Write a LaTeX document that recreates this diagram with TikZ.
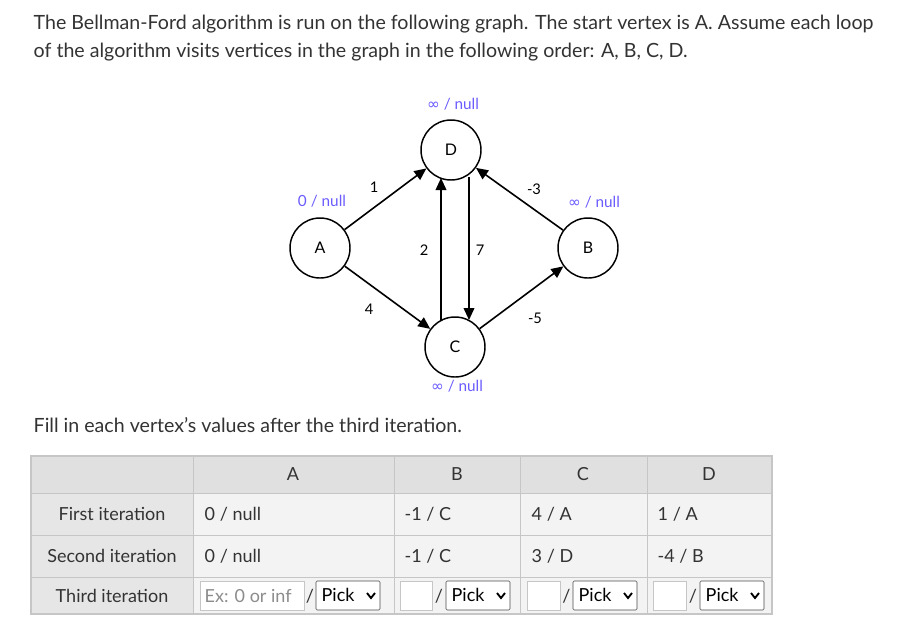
\documentclass[tikz,border=0pt]{standalone}
\usepackage{fontspec}
\setmainfont{Lato}
\newfontfamily\dv{DejaVu Sans}
\usetikzlibrary{arrows.meta}
\definecolor{lbl}{HTML}{6A5CFF}
\definecolor{txt}{HTML}{333333}
\definecolor{bord}{HTML}{C6C6C6}
\definecolor{hdr}{HTML}{E0E0E0}
\definecolor{fcol}{HTML}{E6E6E6}
\definecolor{dcell}{HTML}{F3F3F3}
\tikzset{
  vtx/.style={circle,draw,line width=1.1pt,minimum size=60*0.75pt,inner sep=0pt,font=\fontsize{12}{14}\selectfont},
  val/.style={text=lbl,font=\fontsize{11.5}{13}\selectfont},
  wt/.style={font=\fontsize{11}{13}\selectfont},
  edge/.style={line width=1.2pt,-{Triangle[length=9pt,width=8pt]}},
  cell/.style={text=txt,font=\fontsize{13.5}{16}\selectfont},
  head/.style={anchor=west,text=txt,font=\fontsize{14.7}{17}\selectfont},
  inbox/.style={draw=bord,fill=white},
  sel/.style={draw=black!70,fill=white,rounded corners=1pt},
}
\begin{document}
\begin{tikzpicture}[x=0.75pt,y=-0.75pt]
\useasboundingbox (0,0) rectangle (903,637);
\fill[white] (0,0) rectangle (903,637);
\node[head] (h1) at (29,24) {The Bellman-Ford algorithm is run on the following graph. The start vertex is A. Assume each loop};
\node[head] (h2) at (29,52) {of the algorithm visits vertices in the graph in the following order: A, B, C, D.};
% graph
\node[vtx] (D) at (451,150) {D};
\node[vtx] (A) at (320,248) {A};
\node[vtx] (B) at (588,248) {B};
\node[vtx] (C) at (455,347) {C};
\node[val] (lD) at (453,104) {{\dv ∞} / null};
\node[val] (lA) at (322,201) {0 / null};
\node[val] (lB) at (594,202) {{\dv ∞} / null};
\node[val] (lC) at (457,386) {{\dv ∞} / null};
\draw[edge] (A) -- (D);
\draw[edge] (A) -- (C);
\draw[edge] (B) -- (D);
\draw[edge] (C) -- (B);
\coordinate (c1) at (441,320); \coordinate (d1) at (441,178);
\coordinate (d2) at (469,177); \coordinate (c2) at (469,320);
\draw[edge] (c1) -- (d1);
\draw[edge] (d2) -- (c2);
\node[wt] (w1) at (374,187) {1};
\node[wt] (w4) at (369,309) {4};
\node[wt] (w2) at (424,250) {2};
\node[wt] (w7) at (480,250) {7};
\node[wt] (w3) at (534,189) {-3};
\node[wt] (w5) at (535,318) {-5};
\node[head] (fill) at (29,425) {Fill in each vertex's values after the third iteration.};
% table
\fill[hdr] (31,456) rectangle (772,493);
\fill[fcol] (31,493) rectangle (193,614);
\fill[dcell] (193,493) rectangle (772,614);
\foreach \y in {493,535,577} \draw[bord] (31,\y) -- (772,\y);
\foreach \x in {193,394,520,647} \draw[bord] (\x,456) -- (\x,614);
\draw[bord,line width=1.5pt] (31,456) rectangle (772,614);
\node[cell] (tA) at (293,474) {A};
\node[cell] (tB) at (457,474) {B};
\node[cell] (tC) at (583,474) {C};
\node[cell] (tD) at (709,474) {D};
\node[cell] (r1) at (112,514) {First iteration};
\node[cell] (r2) at (112,556) {Second iteration};
\node[cell] (r3) at (112,596) {Third iteration};
\node[cell,anchor=west] (a1) at (200,514) {0 / null};
\node[cell,anchor=west] (b1) at (400,514) {-1 / C};
\node[cell,anchor=west] (c1v) at (527,514) {4 / A};
\node[cell,anchor=west] (d1v) at (653,514) {1 / A};
\node[cell,anchor=west] (a2) at (200,556) {0 / null};
\node[cell,anchor=west] (b2) at (400,556) {-1 / C};
\node[cell,anchor=west] (c2v) at (527,556) {3 / D};
\node[cell,anchor=west] (d2v) at (653,556) {-4 / B};
% third row inputs
\foreach \ix/\iw/\sx in {200/304/316, 400/432/446, 527/560/573, 653/686/700}{
  \draw[inbox] (\ix,581) rectangle (\iw,610);
  \node[cell] at ({(\iw+\sx)/2},596) {/};
  \draw[sel] (\sx,581) rectangle ({\sx+64},610);
  \node[cell,anchor=west,text=black] at ({\sx+1},595) {Pick};
  \draw[line width=1.4pt] ({\sx+51},593) -- ({\sx+55},598) -- ({\sx+59},593);
}
\node[cell,anchor=west,text=black!45] (ph) at (200,596) {Ex: 0 or inf};
\end{tikzpicture}
\end{document}
